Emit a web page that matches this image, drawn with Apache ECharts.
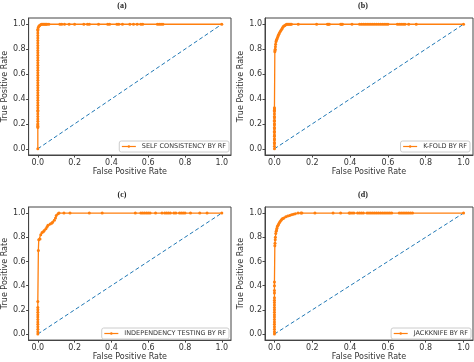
<!DOCTYPE html>
<html>
<head>
<meta charset="utf-8">
<script src="https://cdn.jsdelivr.net/npm/echarts@6/dist/echarts.min.js"></script>
<style>html,body{margin:0;padding:0;background:#fff;}#c{width:474px;height:362px;}</style>
</head>
<body>
<div id="c"></div>
<script>
// Panel titles and legend names
var panelTitles = ['(a)', '(b)', '(c)', '(d)'];
var seriesNames = ['SELF CONSISTENCY BY RF', 'K-FOLD BY RF', 'INDEPENDENCY TESTING BY RF', 'JACKKNIFE BY RF'];
var tickValues = [0, 0.2, 0.4, 0.6, 0.8, 1.0];

// (a) self consistency
var fprA = [0,0,0,0,0,0,0,0,0,0,0,0,0,0,0,0,0,0,0,0,0,0,0,0,0,0,0,0,0,0,0,0,0,0,0,0,0,0,0,0,0,0,0,0,
  0.003,0.006,0.01,0.015,0.02,0.025,0.03,0.035,0.04,0.045,0.05,0.06,0.12,0.13,0.145,0.17,0.2,0.25,0.27,0.28,0.33,0.38,0.39,0.43,0.44,0.46,0.5,0.52,0.54,0.56,0.57,0.65,0.66,0.67,0.68,1.0];
var tprA = [0,0.17,0.18,0.19,0.2,0.22,0.24,0.26,0.28,0.3,0.31,0.33,0.35,0.37,0.39,0.41,0.43,0.45,0.47,0.49,0.51,0.53,0.55,0.57,0.59,0.61,0.63,0.65,0.67,0.69,0.71,0.73,0.75,0.77,0.79,0.81,0.83,0.85,0.87,0.89,0.91,0.93,0.95,0.96,
  0.975,0.985,0.99,0.995,1,1,1,1,1,1,1,1,1,1,1,1,1,1,1,1,1,1,1,1,1,1,1,1,1,1,1,1,1,1,1,1];

// (b) k-fold
var fprB = [0,0,0,0,0,0,0,0,0,0,0,0,0,0,0,0,0,0,0,0,0,0,0,
  0.002,0.003,0.004,0.005,0.006,0.008,0.01,0.012,0.015,0.018,0.02,0.023,0.026,0.03,0.034,0.038,0.042,0.046,0.05,0.055,0.06,0.065,
  0.07,0.075,0.08,0.085,0.09,0.126,0.223,0.28,0.285,0.29,0.35,0.355,0.36,0.41,0.45,0.46,0.47,0.48,0.49,0.5,0.51,0.52,0.53,0.54,0.55,0.56,0.57,0.58,0.59,0.6,0.65,0.66,0.67,0.68,0.69,0.71,0.75,1.0];
var tprB = [0,0.02,0.04,0.05,0.07,0.08,0.1,0.11,0.13,0.14,0.16,0.17,0.19,0.2,0.22,0.23,0.25,0.26,0.28,0.3,0.31,0.32,0.33,
  0.78,0.79,0.8,0.82,0.84,0.86,0.87,0.88,0.89,0.9,0.91,0.92,0.93,0.94,0.95,0.96,0.97,0.98,0.985,0.99,0.995,1,
  1,1,1,1,1,1,1,1,1,1,1,1,1,1,1,1,1,1,1,1,1,1,1,1,1,1,1,1,1,1,1,1,1,1,1,1,1,1];

// (c) independency testing
var fprC = [0,0,0,0,0,0,0,0,0,0,0,0,0,
  0.003,0.005,0.012,0.016,0.023,0.03,0.035,0.044,0.05,0.055,0.067,0.075,0.08,0.09,0.096,0.1,0.11,0.115,
  0.142,0.175,0.28,0.35,0.53,0.56,0.57,0.58,0.59,0.6,0.61,0.64,0.675,0.69,0.7,0.71,0.72,0.74,0.75,0.77,0.78,0.79,0.8,0.83,0.88,0.92,1.0];
var tprC = [0,0.02,0.04,0.06,0.08,0.1,0.12,0.14,0.16,0.18,0.2,0.22,0.27,
  0.69,0.78,0.785,0.82,0.84,0.845,0.855,0.87,0.885,0.9,0.91,0.915,0.925,0.94,0.96,0.98,0.995,1,
  1,1,1,1,1,1,1,1,1,1,1,1,1,1,1,1,1,1,1,1,1,1,1,1,1,1,1];

// (d) jackknife
var fprD = [0,0,0,0,0,0,0,0,0,0,0,0,0,0,0,0,0,0,0,0,
  0.002,0.003,0.004,0.005,0.007,0.009,0.011,0.013,0.016,0.019,0.022,0.026,0.03,0.035,0.04,0.045,0.05,0.06,0.07,0.08,0.09,0.1,0.11,0.125,
  0.14,0.145,0.214,0.31,0.35,0.395,0.4,0.41,0.42,0.44,0.45,0.46,0.47,0.49,0.5,0.51,0.52,0.53,0.54,0.55,0.56,0.57,0.58,0.59,0.6,0.61,0.62,0.66,0.67,0.68,0.69,0.7,0.71,0.72,0.73,1.0];
var tprD = [0,0.02,0.04,0.06,0.08,0.1,0.12,0.14,0.16,0.18,0.2,0.22,0.24,0.26,0.28,0.3,0.34,0.36,0.4,0.43,
  0.73,0.75,0.78,0.8,0.83,0.85,0.86,0.875,0.89,0.9,0.91,0.92,0.93,0.94,0.95,0.955,0.96,0.97,0.975,0.98,0.985,0.99,0.995,1,
  1,1,1,1,1,1,1,1,1,1,1,1,1,1,1,1,1,1,1,1,1,1,1,1,1,1,1,1,1,1,1,1,1,1,1,1];

var chanceX = [0, 1];
var chanceY = [0, 1];

var fprs = [fprA, fprB, fprC, fprD];
var tprs = [tprA, tprB, tprC, tprD];

function zip(xs, ys) { return xs.map(function (x, i) { return [x, ys[i]]; }); }

var FONT = 'DejaVu Sans';
var grids = [
  {left: 23, top: 18, width: 208, height: 137},
  {left: 265, top: 18, width: 208, height: 137},
  {left: 23, top: 207, width: 208, height: 136.5},
  {left: 265, top: 207, width: 208, height: 136.5}
];
var titlePos = [[117, -3], [358, -3], [117, 186], [358, 186]];
var legendPos = [[245, 141], [4, 141], [245, 328], [3, 328]];

function axisCommon(name, isX) {
  return {
    type: 'value', min: -0.05, max: 1.05,
    name: name, nameLocation: 'middle', nameGap: isX ? 12.5 : 19,
    nameTextStyle: {fontFamily: FONT, fontSize: 8, color: '#333'},
    axisLine: {show: true, onZero: false, lineStyle: {color: '#444', width: 1}},
    axisTick: {show: true, length: 2.5, customValues: tickValues, lineStyle: {color: '#444'}},
    axisLabel: {show: true, customValues: tickValues, margin: isX ? 4 : 3, fontFamily: FONT, fontSize: 8, color: '#333',
      formatter: function (v) { return v.toFixed(1); }},
    splitLine: {show: false}
  };
}

var xAxes = [], yAxes = [], series = [], titles = [], legends = [];
for (var i = 0; i < 4; i++) {
  var xa = axisCommon('False Positive Rate', true); xa.gridIndex = i; xAxes.push(xa);
  var ya = axisCommon('True Positive Rate', false); ya.gridIndex = i; yAxes.push(ya);
  grids[i].show = true; grids[i].borderColor = '#444'; grids[i].borderWidth = 1; grids[i].backgroundColor = 'transparent';
  series.push({
    type: 'line', xAxisIndex: i, yAxisIndex: i, data: zip(chanceX, chanceY), symbol: 'none',
    lineStyle: {color: '#1f77b4', width: 1, type: [4, 2.5]}, silent: true, animation: false, z: 2
  });
  series.push({
    name: seriesNames[i], type: 'line', xAxisIndex: i, yAxisIndex: i, data: zip(fprs[i], tprs[i]),
    symbol: 'circle', symbolSize: 3, showAllSymbol: true,
    itemStyle: {color: '#ff7f0e'}, lineStyle: {color: '#ff7f0e', width: 1.3}, animation: false, z: 3
  });
  titles.push({text: panelTitles[i], left: titlePos[i][0], top: titlePos[i][1], textAlign: 'center',
    textStyle: {fontFamily: 'Liberation Serif', fontSize: 8, fontWeight: 'bold', color: '#222'}});
  legends.push({
    data: [seriesNames[i]], right: legendPos[i][0], top: legendPos[i][1], orient: 'horizontal',
    padding: [2, 3, 2, 2], itemWidth: 14, itemHeight: 3, itemGap: 4,
    lineStyle: {width: 1.2},
    backgroundColor: 'rgba(255,255,255,0.8)', borderColor: '#ccc', borderWidth: 1, borderRadius: 2,
    textStyle: {fontFamily: FONT, fontSize: 6.5, color: '#333', padding: [0, 0, 0, 1]}
  });
}

var chart = echarts.init(document.getElementById('c'), null, {renderer: 'canvas'});
chart.setOption({
  animation: false,
  title: titles,
  legend: legends,
  grid: grids,
  xAxis: xAxes,
  yAxis: yAxes,
  series: series
});
</script>
</body>
</html>
